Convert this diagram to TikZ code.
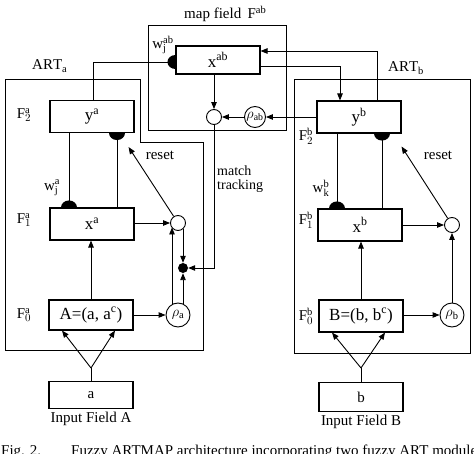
\documentclass[tikz,border=0pt]{standalone}
\usepackage{fontspec}
\setmainfont{Liberation Serif}
\usetikzlibrary{arrows.meta,positioning,calc}

\begin{document}
\begin{tikzpicture}[x=1pt,y=-1pt,
 font=\fontsize{15}{17}\selectfont,
 layer/.style={rectangle,draw,line width=1.1pt,minimum width=84pt,minimum height=32pt,inner sep=0pt,font=\fontsize{17}{19}\selectfont},
 cmp/.style={circle,draw,line width=0.9pt,minimum size=15pt,inner sep=0pt},
 vig/.style={circle,draw,line width=0.9pt,minimum size=24pt,inner sep=0pt,font=\fontsize{15}{17}\selectfont},
 junc/.style={circle,fill,minimum size=10pt,inner sep=0pt},
 frame/.style={line width=0.9pt},
 wire/.style={line width=0.9pt},
 arr/.style={-{Triangle[length=7pt,width=5.5pt]},line width=0.9pt},
 tag/.style={inner sep=0pt}
]
\useasboundingbox (0,0) rectangle (474,454);
\draw[frame] (148,25) rectangle (286,130);
\draw[frame] (5,79) -- (140,79) -- (140,142) -- (203,142) -- (203,350) -- (5,350) -- cycle;
\draw[frame] (294,79) rectangle (470,353);

\node[layer,minimum height=28pt] (xab) at (218,60) {$\mathrm{x}^{\mathrm{ab}}$};
\node[layer] (ya) at (92,116.5) {$\mathrm{y}^{\mathrm{a}}$};
\node[layer] (xa) at (92,224) {$\mathrm{x}^{\mathrm{a}}$};
\node[layer,minimum height=30pt] (Abox) at (91,315) {A=(a, a$^{\mathrm{c}}$)};
\node[layer,minimum height=27pt,font=\fontsize{15}{17}\selectfont] (ina) at (91,395) {a};
\node[layer] (yb) at (359,117) {$\mathrm{y}^{\mathrm{b}}$};
\node[layer] (xb) at (360,225) {$\mathrm{x}^{\mathrm{b}}$};
\node[layer] (Bbox) at (361,316) {B=(b, b$^{\mathrm{c}}$)};
\node[layer,minimum height=29pt,font=\fontsize{15}{17}\selectfont] (inb) at (361,397) {b};
\node[cmp] (cab) at (214,117) {};
\node[vig,minimum size=21pt,font=\fontsize{14}{16}\selectfont] (rab) at (255,117) {$\rho_{\mathrm{ab}}$};
\node[cmp] (ca) at (178,223) {};
\node[vig] (ra) at (178,315) {$\rho_{\mathrm{a}}$};
\node[junc] (dot) at (183,268) {};
\node[cmp] (cb) at (452,225) {};
\node[vig] (rb) at (452,315) {$\rho_{\mathrm{b}}$};

\node[tag,below=3pt of ina] (lina) {Input Field A};
\node[tag,below=3pt of inb] (linb) {Input Field B};
\node[tag,anchor=base west] (lmap) at (184,19) {map field\, $\mathrm{F}^{\mathrm{ab}}$};
\node[tag,anchor=base west] (larta) at (32,70) {$\mathrm{ART}_{\mathrm{a}}$};
\node[tag,anchor=base west] (lartb) at (388,72) {$\mathrm{ART}_{\mathrm{b}}$};
\node[tag] (lf2a) at (24,115) {$\mathrm{F}^{\mathrm{a}}_{2}$};
\node[tag] (lf1a) at (24,220) {$\mathrm{F}^{\mathrm{a}}_{1}$};
\node[tag] (lf0a) at (24,315) {$\mathrm{F}^{\mathrm{a}}_{0}$};
\node[tag] (lf2b) at (306,136) {$\mathrm{F}^{\mathrm{b}}_{2}$};
\node[tag] (lf1b) at (306,220) {$\mathrm{F}^{\mathrm{b}}_{1}$};
\node[tag] (lf0b) at (306,316) {$\mathrm{F}^{\mathrm{b}}_{0}$};
\node[tag] (lwa) at (52,188) {$\mathrm{w}^{\mathrm{a}}_{\mathrm{j}}$};
\node[tag] (lwab) at (163,45) {$\mathrm{w}^{\mathrm{ab}}_{\mathrm{j}}$};
\node[tag] (lwb) at (321,188) {$\mathrm{w}^{\mathrm{b}}_{\mathrm{k}}$};
\node[tag] (lreseta) at (160,155) {reset};
\node[tag] (lresetb) at (438,155) {reset};
\node[tag,anchor=north west,align=left,font=\fontsize{14}{14}\selectfont] (lmt) at (217,166) {match\\tracking};
\node[tag,anchor=base west] (cap) at (1,455) {Fig. 2.\qquad Fuzzy ARTMAP architecture incorporating two fuzzy ART modules};

\coordinate (wab) at ($(xab.west)+(0,2)$);
\coordinate (jab) at (93,62);
\coordinate (tb) at (377,51);
\coordinate (td) at (340,66);
\coordinate (fa) at (91,368);
\coordinate (fb) at (361,368);

\draw[wire] (wab) -- (jab) -- (ya.north -| jab);
\draw[arr] (xab.south -| cab) -- (cab); \draw[arr] (rab) -- (cab); \draw[arr] (yb.west |- rab) -- (rab);
\draw[arr] (yb.north -| tb) |- (xab.east |- tb); \draw[arr] (xab.east |- td) -| (yb.north -| td);
\draw[arr] (cab) |- (dot);
\draw[wire] ($(ya.south)+(-23,0)$) -- ($(xa.north)+(-23,0)$); \draw[wire] ($(ya.south)+(25,0)$) -- ($(xa.north)+(25,0)$);
\draw[arr] (xa.east |- ca) -- (ca); \draw[arr] (ca) -- ($(ya.south east)+(-6,14)$);
\draw[arr] ($(ra)+(-6,-10.2)$) -- ($(ca)+(-6,4.5)$);
\draw[arr] ($(ca)+(5,5.6)$) -- (dot); \draw[arr] ($(ra)+(5,-10.9)$) -- (dot);
\draw[arr] (Abox.east |- ra) -- (ra); \draw[arr] (Abox.north) -- (Abox.north |- xa.south);
\draw[wire] (ina) -- (fa); \draw[arr] (fa) -- ($(Abox.south)+(-29,0)$); \draw[arr] (fa) -- ($(Abox.south)+(24,0)$);
\draw[wire] ($(yb.south)+(-22,0)$) -- ($(xb.north)+(-23,0)$); \draw[wire] ($(yb.south)+(23,0)$) -- ($(xb.north)+(22,0)$);
\draw[arr] (xb.east |- cb) -- (cb); \draw[arr] (cb) -- ($(yb.south east)+(0,13)$);
\draw[arr] (rb) -- (cb);
\draw[arr] (Bbox.east |- rb) -- (rb); \draw[arr] (Bbox.north) -- (Bbox.north |- xb.south);
\draw[wire] (inb) -- (fb); \draw[arr] (fb) -- ($(Bbox.south)+(-29,0)$); \draw[arr] (fb) -- ($(Bbox.south)+(24,0)$);

\fill (wab) ++(0,-7) arc[start angle=270,end angle=90,x radius=8,y radius=7] -- cycle;
\fill ($(ya.south)+(25,0)$) ++(8,0) arc[start angle=0,end angle=180,x radius=8,y radius=7] -- cycle;
\fill ($(xa.north)+(-23,0)$) ++(-8,0) arc[start angle=180,end angle=360,x radius=8,y radius=7] -- cycle;
\fill ($(yb.south)+(23,0)$) ++(8,0) arc[start angle=0,end angle=180,x radius=8,y radius=7] -- cycle;
\fill ($(xb.north)+(-23,0)$) ++(-8,0) arc[start angle=180,end angle=360,x radius=8,y radius=7] -- cycle;
\end{tikzpicture}
\end{document}
